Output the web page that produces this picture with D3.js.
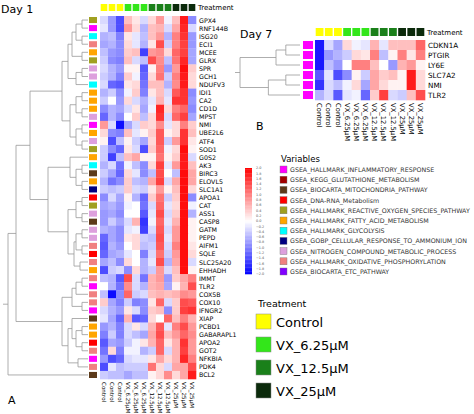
<!DOCTYPE html>
<html>
<head>
<meta charset="utf-8">
<script src="https://cdnjs.cloudflare.com/ajax/libs/d3/7.8.5/d3.min.js"></script>
<style>
  body { margin: 0; background: #fff; }
  svg { display: block; font-family: "DejaVu Sans", sans-serif; }
</style>
</head>
<body>
<div id="chart"></div>
<script>
// ---- data ----
var columns = ["Control","Control","Control","VX_6.25µM","VX_6.25µM","VX_6.25µM",
               "VX_12.5µM","VX_12.5µM","VX_12.5µM","VX_25µM","VX_25µM","VX_25µM"];
var colTreat = [0,0,0,1,1,1,2,2,2,3,3,3];
var treatNames = ["Control","VX_6.25µM","VX_12.5µM","VX_25µM"];
var treatColors = ["#ffff00","#33e61a","#1a801a","#0b2a0b"];

var groupNames = ["GSEA_HALLMARK_INFLAMMATORY_RESPONSE","GSEA_KEGG_GLUTATHIONE_METABOLISM",
  "GSEA_BIOCARTA_MITOCHONDRIA_PATHWAY","GSEA_DNA-RNA_Metabolism",
  "GSEA_HALLMARK_REACTIVE_OXYGEN_SPECIES_PATHWAY","GSEA_HALLMARK_FATTY_ACID_METABOLISM",
  "GSEA_HALLMARK_GLYCOLYSIS","GSEA_GOBP_CELLULAR_RESPONSE_TO_AMMONIUM_ION",
  "GSEA_NITROGEN_COMPOUND_METABOLIC_PROCESS","GSEA_HALLMARK_OXIDATIVE_PHOSPHORYLATION",
  "GSEA_BIOCARTA_ETC_PATHWAY"];
var groupColors = ["#ff00ff","#a00000","#5c3a1a","#ff0000","#a0a020","#ffa500",
  "#00ffff","#000080","#dda0dd","#f08080","#8000ff"];

var genes1 = ["GPX4","RNF144B","ISG20","ECI1","MCEE","GLRX","SPR","GCH1","NDUFV3","IDI1",
  "CA2","CD1D","MPST","NMI","UBE2L6","ATF4","SOD1","G0S2","AK3","BIRC3","ELOVL5","SLC1A1",
  "APOA1","CAT","ASS1","CASP8","GATM","PEPD","AIFM1","SQLE","SLC25A20","EHHADH","IMMT",
  "TLR2","COX5B","COX10","IFNGR2","XIAP","PCBD1","GABARAPL1","APOA2","GOT2","NFKBIA","PDK4","BCL2"];
var groups1 = [4,0,6,9,5,4,8,8,6,5,5,5,8,0,5,8,4,5,6,2,5,7,3,4,8,2,8,8,9,3,9,5,9,0,9,9,0,2,5,5,3,9,0,9,2];
var values1 = [
 [-0.3,-0.8,-1.4,0.5,0.2,-0.3,0.3,0.8,-0.1,0.5,1.8,-0.9],
 [-0.2,-0.8,-1.4,0.8,0.3,-0.6,0.5,0.6,-0.3,0.7,1.7,-0.3],
 [-0.6,-0.5,-1.0,0.2,-0.2,-0.5,0.5,0.8,-0.6,1.0,1.6,-0.8],
 [-0.7,-0.6,-0.9,0.3,-0.2,-0.6,0.2,1.4,-0.4,1.0,1.5,-0.8],
 [-0.5,-0.8,-0.9,0.4,0.5,-1.5,0.8,0.9,0.3,1.2,1.5,-0.7],
 [-0.4,-0.9,-1.0,0.5,-0.3,-0.5,1.4,0.9,-0.5,1.1,1.7,-0.7],
 [-0.3,-0.6,-0.8,0.1,0.1,-1.3,0.1,1.0,-0.8,0.8,1.9,0.4],
 [-0.4,-0.6,-1.0,0.4,-0.1,-1.2,0.3,1.1,-0.4,1.0,1.8,0.3],
 [-0.3,-1.2,-1.3,0.2,0.3,-1.1,0.5,0.5,-0.6,0.9,1.8,0.3],
 [-0.6,-0.4,-0.9,-0.1,0.4,-1.0,0.2,0.5,-0.3,1.3,1.6,-0.9],
 [-0.4,0.0,-0.8,0.3,-0.3,-0.6,-0.2,0.6,-0.2,1.6,1.6,-0.8],
 [-0.9,-0.6,-0.7,-0.3,0.2,-0.7,-0.1,1.7,0.3,1.0,1.2,-0.9],
 [-1.2,-0.6,-0.9,0.0,0.4,-0.5,0.3,1.6,-0.3,1.2,1.5,-0.7],
 [0.8,-0.3,-1.9,-0.7,-0.3,0.4,0.3,0.9,-0.2,0.3,1.0,0.4],
 [0.3,-0.9,-1.0,0.5,-0.2,0.1,0.4,1.3,0.1,0.3,1.6,0.5],
 [0.1,-1.4,-0.5,0.1,-0.4,-0.7,0.3,1.3,-0.4,0.8,1.6,0.2],
 [-0.4,-0.9,-1.2,0.2,-0.3,-1.4,0.4,1.2,-0.1,0.3,1.9,0.1],
 [-0.4,-1.5,-0.5,0.5,0.7,0.1,0.1,1.1,0.1,0.4,1.8,-0.3],
 [-0.6,-0.3,-1.1,-0.1,-0.5,-0.9,0.3,1.5,-0.2,0.8,1.8,0.5],
 [-0.4,-0.7,-1.2,0.3,-0.2,-0.9,-0.5,1.4,0.0,-0.5,1.9,0.7],
 [-0.6,-1.1,-0.9,0.4,-0.5,-0.6,0.7,1.5,-0.3,0.7,1.9,0.7],
 [-0.4,-0.5,-0.4,0.4,-0.3,-0.4,0.2,0.8,0.1,0.5,1.9,0.3],
 [-0.9,-0.3,-0.7,0.1,-0.6,-1.2,0.4,1.1,-0.4,0.4,1.9,-0.9],
 [-0.7,-0.6,-0.8,-0.1,0.0,-1.1,-0.3,1.2,-0.2,0.3,1.9,-0.1],
 [-0.8,-0.7,-0.9,0.0,0.0,-1.3,-0.2,1.4,-0.3,0.4,1.9,-0.6],
 [-0.8,-0.4,-0.7,-0.3,0.6,-1.6,-0.1,1.2,-0.2,0.6,1.9,0.1],
 [-0.6,-0.7,-0.9,-0.2,-0.1,-1.5,-0.3,1.3,-0.3,0.8,1.9,0.1],
 [-1.2,-0.7,-0.9,0.2,0.3,-0.4,-0.5,1.4,-0.2,0.8,1.9,0.1],
 [-1.3,-0.6,-0.8,0.0,0.3,-0.5,-0.4,1.3,-0.3,1.0,1.9,0.2],
 [-1.2,-0.7,-0.6,-0.2,0.0,-1.0,-0.3,1.1,-0.4,0.8,1.9,0.3],
 [-0.7,-0.5,-0.9,0.3,0.0,-0.6,-0.2,1.4,-0.6,0.7,1.9,-0.3],
 [-1.4,-0.4,-0.3,-0.9,0.3,-0.6,-0.4,0.8,-0.3,0.5,1.9,0.1],
 [-0.5,-0.6,-1.3,1.4,-0.3,-1.1,0.6,0.8,-0.8,0.4,0.7,1.0],
 [0.0,-0.6,-1.1,0.9,-0.3,-0.6,0.6,0.7,-0.7,0.1,0.6,1.4],
 [-0.5,-1.9,-0.9,1.2,-0.4,-0.3,0.5,0.6,0.5,0.6,0.9,0.8],
 [0.4,-0.7,-1.0,-0.4,-1.0,-0.9,0.2,1.2,-0.3,0.4,1.4,1.3],
 [-0.3,-0.6,-0.8,0.2,-0.3,-0.9,0.4,0.5,-0.9,0.4,1.5,1.6],
 [-0.2,-0.7,-1.2,0.6,-1.3,-1.2,0.3,0.0,1.2,0.5,1.0,0.6],
 [-0.8,-0.6,-1.0,-0.3,0.2,-0.3,0.6,1.3,-0.2,1.0,1.4,0.8],
 [-1.0,-0.4,-1.0,-0.3,-0.5,-0.7,0.7,1.4,0.5,0.8,1.2,0.9],
 [-1.3,-0.7,-0.8,-0.4,-0.1,0.2,0.6,1.2,0.2,0.6,1.6,0.8],
 [-1.1,0.3,-1.0,-0.1,-0.1,-0.6,-0.4,1.2,-0.3,0.6,1.5,0.8],
 [-0.8,-1.4,-1.2,-0.3,-0.2,-0.2,0.2,0.7,0.3,0.6,1.7,1.0],
 [-1.4,-0.2,-0.5,-0.4,-0.4,-0.4,1.1,0.3,-0.3,0.7,0.7,1.4],
 [-0.4,-0.5,-0.5,-0.7,-0.5,-0.5,0.1,0.3,0.9,0.3,0.7,1.8]
];
// dendrogram: [height, left, right], leaves are row indices
var tree1 = [80,
  [72,
    [58,
      [26,
        [20, [16, [12, [6,0,1], [6,2,3]], [6,4,5]], [12, [6,6,7], 8]],
        [18, [12, [6,9,10], [6,11,12]], [12, [6,13,14], [6,15,16]]]],
      [40,
        [18, 17, [12, [6,18,19], [6,20,21]]],
        [20, [12, [6,22,23], [6,24,25]], [14, [12, [6,26,27], [6,28,29]], [8,30,31]]]]],
    [26,
      [16, [12, [6,32,33], 34], [6,35,36]],
      [20, [16, 37, [12, [6,38,39], [6,40,41]]], [10,42,43]]]],
  44];

var genes7 = ["CDKN1A","PTGIR","LY6E","SLC7A2","NMI","TLR2"];
var values7 = [
 [-1.8,-0.3,-0.7,0.3,-0.1,-0.2,0.6,-0.2,0.5,0.5,0.5,1.2],
 [-1.8,-0.8,-0.6,-0.4,0.3,0.2,1.0,-0.5,0.1,1.0,0.2,1.0],
 [-1.8,-0.5,-0.8,0.0,1.0,1.0,0.5,0.0,-0.8,0.6,0.8,0.1],
 [-1.3,-0.2,-1.4,-0.9,0.1,-0.4,0.7,0.4,0.5,0.1,1.8,0.3],
 [-1.6,-0.3,-0.5,-0.1,0.3,-0.7,0.7,0.3,0.1,0.1,1.8,0.3],
 [-0.6,-0.3,-1.3,-0.2,-0.1,-1.2,0.4,1.5,-0.3,-0.4,0.5,1.4]
];
var tree7 = [55, [22, [13,0,1], 2], [29, [13,3,4], 5]];
var colorTicks = d3.range(-2, 2.01, 0.2);

// ---- drawing ----
var W = 474, H = 414;
var svg = d3.select("#chart").append("svg").attr("width", W).attr("height", H);
var color = d3.scaleLinear().domain([-2, 0, 2]).range(["#0000ff", "#ffffff", "#ff0000"]);

function heatmap(opt) {
  var g = svg.append("g");
  var x = d3.scaleBand().domain(d3.range(12)).range([opt.x0, opt.x1]);
  var y = d3.scaleBand().domain(d3.range(opt.genes.length)).range([opt.y0, opt.y1]);
  // treatment bar
  g.selectAll(".tr").data(colTreat).enter().append("rect")
    .attr("x", function (d, i) { return x(i) + 0.7; }).attr("y", opt.ty)
    .attr("width", x.bandwidth() - 1.4).attr("height", opt.th)
    .attr("fill", function (d) { return treatColors[d]; });
  g.append("text").attr("x", opt.x1 + 2).attr("y", opt.ty + opt.th - 1)
    .style("font-size", "7px").text("Treatment");
  // cells
  opt.values.forEach(function (row, r) {
    g.selectAll(null).data(row).enter().append("rect")
      .attr("x", function (d, i) { return x(i); }).attr("y", y(r))
      .attr("width", x.bandwidth() + 0.3).attr("height", y.bandwidth() + 0.3)
      .attr("fill", function (d) { return color(d); });
  });
  // gene labels
  g.selectAll(".gl").data(opt.genes).enter().append("text")
    .attr("x", opt.x1 + 3).attr("y", function (d, i) { return y(i) + y.bandwidth() / 2 + 2.5; })
    .style("font-size", opt.fs + "px").text(function (d) { return d; });
  // group squares
  g.selectAll(".gs").data(opt.groups).enter().append("rect")
    .attr("x", opt.sx).attr("y", function (d, i) { return y(i) + 1; })
    .attr("width", opt.sw).attr("height", y.bandwidth() - 2)
    .attr("fill", function (d) { return groupColors[d]; });
  // column labels
  g.selectAll(".cl").data(columns).enter().append("text")
    .attr("transform", function (d, i) {
      return "translate(" + (x(i) + x.bandwidth() / 2 - 2.3) + "," + (opt.y1 + 3) + ") rotate(90)";
    })
    .style("font-size", opt.cfs + "px").text(function (d) { return d; });
  // dendrogram
  var dx = d3.scaleLinear().domain([0, opt.hmax]).range([opt.dx1, opt.dx0]);
  function draw(node) {
    if (typeof node === "number") return { x: dx(0), y: y(node) + y.bandwidth() / 2 };
    var a = draw(node[1]), b = draw(node[2]), hx = dx(node[0]);
    g.append("path").attr("fill", "none").attr("stroke", "#999").attr("stroke-width", 0.8)
      .attr("d", "M" + a.x + "," + a.y + "H" + hx + "V" + b.y + "H" + b.x);
    return { x: hx, y: (a.y + b.y) / 2 };
  }
  var root = draw(opt.tree);
  g.append("path").attr("stroke", "#999").attr("stroke-width", 0.8)
    .attr("d", "M" + root.x + "," + root.y + "H" + (root.x - 5));
}

heatmap({ genes: genes1, values: values1, groups: groups1, tree: tree1, hmax: 80,
  x0: 100, x1: 196, y0: 16, y1: 379, ty: 4, th: 7, fs: 6.3, cfs: 5.6,
  sx: 89, sw: 8, dx0: 8, dx1: 88 });
heatmap({ genes: genes7, values: values7, groups: [0,0,0,0,0,0], tree: tree7, hmax: 55,
  x0: 315, x1: 425, y0: 40, y1: 100, ty: 28, th: 8, fs: 7.2, cfs: 6.8,
  sx: 303, sw: 10, dx0: 240, dx1: 300 });

svg.append("text").attr("x", 1).attr("y", 13).style("font-size", "11px").text("Day 1");
svg.append("text").attr("x", 240).attr("y", 38).style("font-size", "11px").text("Day 7");
svg.append("text").attr("x", 8).attr("y", 404).style("font-size", "11px").text("A");
svg.append("text").attr("x", 256).attr("y", 130).style("font-size", "11px").text("B");

// colour bar
var cb = d3.scaleLinear().domain([-2, 2]).range([274, 168]);
svg.selectAll(".cb").data(d3.range(-2, 2, 0.05)).enter().append("rect")
  .attr("x", 245).attr("y", function (d) { return cb(d + 0.05); })
  .attr("width", 7).attr("height", cb(-2) - cb(-1.95) + 0.3)
  .attr("fill", function (d) { return color(d + 0.025); });
svg.selectAll(".ct").data(colorTicks).enter().append("text")
  .attr("x", 256).attr("y", function (d) { return cb(d) + 1.2; })
  .style("font-size", "3.4px").attr("fill", "#555")
  .text(function (d) { return d3.format(".1f")(d); });

// variables legend
svg.append("text").attr("x", 281).attr("y", 162).style("font-size", "8.5px").text("Variables");
var vl = svg.selectAll(".vl").data(groupNames).enter().append("g")
  .attr("transform", function (d, i) { return "translate(280," + (166 + i * 10.2) + ")"; });
vl.append("rect").attr("width", 7).attr("height", 7).attr("stroke", "#777").attr("stroke-width", 0.4)
  .attr("fill", function (d, i) { return groupColors[i]; });
vl.append("text").attr("x", 10).attr("y", 6).style("font-size", "6.3px").attr("fill", "#333")
  .text(function (d) { return d; });

// treatment legend
svg.append("text").attr("x", 258).attr("y", 307).style("font-size", "9.5px").text("Treatment");
var tl = svg.selectAll(".tl").data(treatNames).enter().append("g")
  .attr("transform", function (d, i) { return "translate(256," + (314 + i * 23) + ")"; });
tl.append("rect").attr("width", 15).attr("height", 15).attr("stroke", "#888").attr("stroke-width", 0.5)
  .attr("fill", function (d, i) { return treatColors[i]; });
tl.append("text").attr("x", 20).attr("y", 13).style("font-size", "13px").text(function (d) { return d; });
</script>
</body>
</html>
